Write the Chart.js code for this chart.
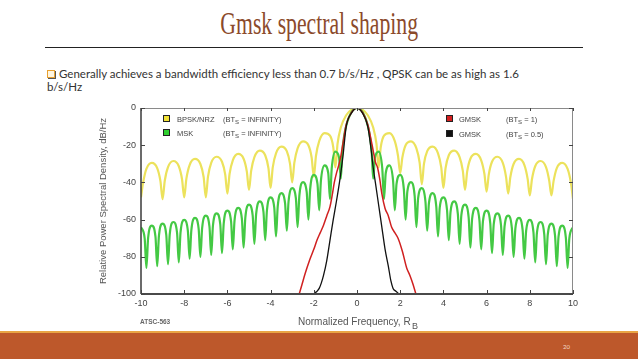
<!DOCTYPE html>
<html lang="en">
<head>
<meta charset="UTF-8">
<title>Gmsk spectral shaping</title>
<script src="https://cdn.jsdelivr.net/npm/chart.js"></script>
<style>
  html, body { margin: 0; padding: 0; }
  body { width: 638px; height: 359px; position: relative; overflow: hidden; background: #fff; font-family: Lato, "Liberation Sans", sans-serif; }
  #title { position: absolute; left: 0; top: 8px; width: 638px; text-align: center; font-family: "Liberation Serif", serif; font-size: 31px; line-height: 31px; color: #8b4a2b; }
  #title span { display: inline-block; transform: scaleX(0.7); }
  #rule { position: absolute; left: 45px; top: 47px; width: 538px; height: 1px; background: #222; }
  #bullet { position: absolute; left: 47px; top: 67px; width: 570px; font-size: 11.5px; line-height: 13px; color: #333; }
  .box { display: inline-block; width: 6px; height: 6px; border: 1.5px solid #e8a030; box-shadow: 1px 1px 0 #555; margin-right: 4px; background: #fff6e0; }
  #footLine { position: absolute; left: 0; top: 331px; width: 638px; height: 2px; background: #e9a545; }
  #footer { position: absolute; left: 0; top: 333px; width: 638px; height: 26px; background: #bd582b; }
  #page { position: absolute; left: 563px; top: 343px; font-size: 6px; color: #f3d8c8; }
  #wrap { position: absolute; left: 0; top: 0; width: 638px; height: 359px; }
</style>
</head>
<body>
  <div id="title"><span>Gmsk spectral shaping</span></div>
  <div id="rule"></div>
  <div id="bullet"><span class="box"></span>Generally achieves a bandwidth efficiency less than 0.7 b/s/Hz , QPSK can be as high as 1.6<br>b/s/Hz</div>
  <div id="footLine"></div>
  <div id="footer"></div>
  <div id="page">20</div>
  <div id="wrap"><canvas id="psdChart" width="638" height="359"></canvas></div>
<script>
// BPSK/NRZ (yellow)
const bpskFreq = [
  -10, -9.9, -9.75, -9.5, -9.25, -9.1,
  -9, -8.9, -8.75, -8.5, -8.25, -8.1,
  -8, -7.9, -7.75, -7.5, -7.25, -7.1,
  -7, -6.9, -6.75, -6.5, -6.25, -6.1,
  -6, -5.9, -5.75, -5.5, -5.25, -5.1,
  -5, -4.9, -4.75, -4.5, -4.25, -4.1,
  -4, -3.9, -3.75, -3.5, -3.25, -3.1,
  -3, -2.9, -2.75, -2.5, -2.25, -2.1,
  -2, -1.9, -1.75, -1.5, -1.25, -1.1,
  -1, -0.9, -0.75, -0.5, -0.25, 0, 0.25, 0.5, 0.75, 0.9,
  1, 1.1, 1.25, 1.5, 1.75, 1.9,
  2, 2.1, 2.25, 2.5, 2.75, 2.9,
  3, 3.1, 3.25, 3.5, 3.75, 3.9,
  4, 4.1, 4.25, 4.5, 4.75, 4.9,
  5, 5.1, 5.25, 5.5, 5.75, 5.9,
  6, 6.1, 6.25, 6.5, 6.75, 6.9,
  7, 7.1, 7.25, 7.5, 7.75, 7.9,
  8, 8.1, 8.25, 8.5, 8.75, 8.9,
  9, 9.1, 9.25, 9.5, 9.75, 9.9,
  10
];
const bpskDb = [
  -48, -40.0, -32.7, -29.5, -32.3, -39.3,
  -49, -39.1, -31.8, -28.5, -31.3, -38.3,
  -48, -38.1, -30.7, -27.4, -30.1, -37.1,
  -48, -37.0, -29.5, -26.2, -28.9, -35.8,
  -46, -35.5, -28.1, -24.7, -27.3, -34.2,
  -44, -33.8, -26.4, -22.9, -25.4, -32.3,
  -43, -31.9, -24.4, -20.8, -23.2, -30.0,
  -40, -29.4, -21.7, -17.9, -20.0, -26.6,
  -37, -25.8, -17.8, -13.5, -14.9, -21.0,
  -32, -19.2, -10.5, -3.9, -0.9, 0, -0.9, -3.9, -10.5, -19.2,
  -32, -21.0, -14.9, -13.5, -17.8, -25.8,
  -35, -26.6, -20.0, -17.9, -21.7, -29.4,
  -41, -30.0, -23.2, -20.8, -24.4, -31.9,
  -43, -32.3, -25.4, -22.9, -26.4, -33.8,
  -44, -34.2, -27.3, -24.7, -28.1, -35.5,
  -45, -35.8, -28.9, -26.2, -29.5, -37.0,
  -46, -37.1, -30.1, -27.4, -30.7, -38.1,
  -47, -38.3, -31.3, -28.5, -31.8, -39.1,
  -47, -39.3, -32.3, -29.5, -32.7, -40.0,
  -49
];

// MSK (green)
const mskFreq = [
  -10, -9.83, -9.75, -9.67,  -9.5, -9.33, -9.25, -9.17,
  -9, -8.83, -8.75, -8.67,   -8.5, -8.33, -8.25, -8.17,
  -8, -7.83, -7.75, -7.67,   -7.5, -7.33, -7.25, -7.17,
  -7, -6.83, -6.75, -6.67,   -6.5, -6.33, -6.25, -6.17,
  -6, -5.83, -5.75, -5.67,   -5.5, -5.33, -5.25, -5.17,
  -5, -4.83, -4.75, -4.67,   -4.5, -4.33, -4.25, -4.17,
  -4, -3.83, -3.75, -3.67,   -3.5, -3.33, -3.25, -3.17,
  -3, -2.83, -2.75, -2.67,   -2.5, -2.33, -2.25, -2.17,
  -2, -1.83, -1.75, -1.67,   -1.5, -1.33, -1.25, -1.17,
  -1, -0.83, -0.75,
  -0.68, -0.6, -0.5, -0.25, 0, 0.25, 0.5, 0.6, 0.68,
  0.75, 0.83, 1,
  1.17, 1.25, 1.33, 1.5,   1.67, 1.75, 1.83, 2,
  2.17, 2.25, 2.33, 2.5,   2.67, 2.75, 2.83, 3,
  3.17, 3.25, 3.33, 3.5,   3.67, 3.75, 3.83, 4,
  4.17, 4.25, 4.33, 4.5,   4.67, 4.75, 4.83, 5,
  5.17, 5.25, 5.33, 5.5,   5.67, 5.75, 5.83, 6,
  6.17, 6.25, 6.33, 6.5,   6.67, 6.75, 6.83, 7,
  7.17, 7.25, 7.33, 7.5,   7.67, 7.75, 7.83, 8,
  8.17, 8.25, 8.33, 8.5,   8.67, 8.75, 8.83, 9,
  9.17, 9.25, 9.33, 9.5,   9.67, 9.75, 9.83, 10
];
const mskDb = [
  -64.1, -70.1, -86, -69.8,  -63.2, -69.2, -85, -68.8,
  -62.2, -68.2, -84, -67.9,  -61.3, -67.2, -83, -66.9,
  -60.2, -66.1, -81, -65.8,  -59.1, -65.0, -80, -64.6,
  -57.9, -63.8, -79, -63.3,  -56.6, -62.5, -78, -62.0,
  -55.2, -61.0, -76, -60.5,  -53.7, -59.5, -75, -58.9,
  -52.0, -57.7, -73, -57.1,  -50.2, -55.8, -71, -55.1,
  -48.1, -53.6, -69, -52.9,  -45.8, -51.2, -66, -50.4,
  -43.1, -48.4, -64, -47.3,  -39.9, -45.0, -60, -43.7,
  -36.0, -40.8, -55, -39.1,  -30.9, -35.1, -49, -32.5,
  -23.5, -26.6, -38,
  -23.5, -15.4, -9.5, -2.1, 0, -2.1, -9.5, -15.4, -23.5,
  -38, -26.6, -23.5,
  -32.5, -49, -35.1, -30.9,  -39.1, -55, -40.8, -36.0,
  -43.7, -60, -45.0, -39.9,  -47.3, -64, -48.4, -43.1,
  -50.4, -66, -51.2, -45.8,  -52.9, -69, -53.6, -48.1,
  -55.1, -71, -55.8, -50.2,  -57.1, -73, -57.7, -52.0,
  -58.9, -75, -59.5, -53.7,  -60.5, -76, -61.0, -55.2,
  -62.0, -78, -62.5, -56.6,  -63.3, -79, -63.8, -57.9,
  -64.6, -80, -65.0, -59.1,  -65.8, -81, -66.1, -60.2,
  -66.9, -83, -67.2, -61.3,  -67.9, -84, -68.2, -62.2,
  -68.8, -85, -69.2, -63.2,  -69.8, -86, -70.1, -64.1
];

// GMSK, BTs = 1 (red)
const gmsk1Freq = [-2.7, -2.55, -2.4, -2.2, -2.0, -1.85, -1.7, -1.55, -1.4, -1.25,
  -1.15, -1.05, -0.95, -0.85, -0.75, -0.65, -0.5, -0.25, 0,
  0.25, 0.5, 0.65, 0.75, 0.85, 0.95, 1.05, 1.15, 1.3,
  1.45, 1.6, 1.75, 1.9, 2.1, 2.3, 2.45, 2.6, 2.75];
const gmsk1Db = [-101, -95, -89, -82, -76, -71, -67, -63, -58, -53,
  -47, -40, -35, -31, -26, -19, -9, -2.3, 0,
  -2.3, -9, -17, -23, -29, -32, -38, -46, -54,
  -58, -64, -67, -70, -77, -86, -90, -95, -101];

// GMSK, BTs = 0.5 (black)
const gmsk05Freq = [-2.05, -1.95, -1.85, -1.75, -1.65, -1.55, -1.4, -1.25, -1.1, -0.95,
  -0.8, -0.65, -0.5, -0.25, 0, 0.25, 0.5, 0.65, 0.75, 0.85,
  0.95, 1.05, 1.15, 1.3, 1.45, 1.57, 1.67, 1.8, 1.9, 2.0];
const gmsk05Db = [-101, -99.5, -98.5, -97, -94, -90, -82, -71, -60, -50,
  -39, -26, -10, -2.6, 0, -2.6, -10, -22, -32, -40,
  -48, -56, -64, -76, -85, -93, -97, -98.5, -99.5, -101];

const xTicks = [-10, -8, -6, -4, -2, 0, 2, 4, 6, 8, 10];
const yTicks = [0, -20, -40, -60, -80, -100];

const FONT = '"Liberation Sans", Arial, sans-serif';

function toPoints(fs, ds) {
  return fs.map((f, i) => ({ x: f, y: ds[i] }));
}

function drawKey(ctx, x, y, fill) {
  ctx.fillStyle = fill;
  ctx.fillRect(x, y, 7, 7);
  ctx.strokeStyle = '#222';
  ctx.lineWidth = 1;
  ctx.strokeRect(x + 0.5, y + 0.5, 6, 6);
}

// "(BTs = ...)" with subscript s
function drawBT(ctx, x, y, val) {
  ctx.fillStyle = '#444';
  ctx.font = '7.5px ' + FONT;
  ctx.fillText('(BT', x, y);
  let w = ctx.measureText('(BT').width;
  ctx.font = '6px ' + FONT;
  ctx.fillText('S', x + w, y + 2);
  w += ctx.measureText('S').width;
  ctx.font = '7.5px ' + FONT;
  ctx.fillText(' = ' + val + ')', x + w, y);
}

const framePlugin = {
  id: 'frame',
  afterDatasetsDraw(chart) {
    const { ctx, chartArea: a, scales: { x, y } } = chart;
    ctx.save();
    ctx.strokeStyle = '#8a8a8a';
    ctx.lineWidth = 1;
    ctx.beginPath();
    ctx.moveTo(a.left, a.top + 0.5);
    ctx.lineTo(a.right - 0.5, a.top + 0.5);
    ctx.lineTo(a.right - 0.5, a.bottom);
    ctx.stroke();
    ctx.strokeStyle = '#3a3a3a';
    ctx.lineWidth = 1.5;
    ctx.beginPath();
    ctx.moveTo(a.left, a.top);
    ctx.lineTo(a.left, a.bottom);
    ctx.stroke();
    ctx.strokeStyle = '#4a4a4a';
    ctx.lineWidth = 2;
    ctx.beginPath();
    ctx.moveTo(a.left, a.bottom);
    ctx.lineTo(a.right, a.bottom);
    ctx.stroke();
    // inward tick marks
    ctx.strokeStyle = '#444';
    ctx.lineWidth = 1;
    ctx.beginPath();
    x.ticks.forEach(t => {
      const px = Math.round(x.getPixelForValue(t.value)) + 0.5;
      ctx.moveTo(px, a.bottom); ctx.lineTo(px, a.bottom - 4);
      ctx.moveTo(px, a.top); ctx.lineTo(px, a.top + 3);
    });
    y.ticks.forEach(t => {
      const py = Math.round(y.getPixelForValue(t.value)) + 0.5;
      ctx.moveTo(a.left, py); ctx.lineTo(a.left + 4, py);
      ctx.moveTo(a.right, py); ctx.lineTo(a.right - 4, py);
    });
    ctx.stroke();
    ctx.restore();
  },
  afterDraw(chart) {
    const { ctx, chartArea: a } = chart;
    ctx.save();
    ctx.textBaseline = 'alphabetic';
    // legend, left block
    drawKey(ctx, 163, 115, '#f2e236');
    drawKey(ctx, 163, 129, '#2fd02f');
    ctx.fillStyle = '#444';
    ctx.font = '7.5px ' + FONT;
    ctx.fillText('BPSK/NRZ', 177, 122);
    ctx.fillText('MSK', 177, 136);
    drawBT(ctx, 223, 122, 'INFINITY');
    drawBT(ctx, 223, 136, 'INFINITY');
    // legend, right block
    drawKey(ctx, 446, 115, '#d42020');
    drawKey(ctx, 446, 130, '#111');
    ctx.fillStyle = '#444';
    ctx.font = '7.5px ' + FONT;
    ctx.fillText('GMSK', 459, 122);
    ctx.fillText('GMSK', 459, 137);
    drawBT(ctx, 506, 122, '1');
    drawBT(ctx, 506, 137, '0.5');
    // axis titles
    ctx.fillStyle = '#555';
    ctx.font = '9.5px ' + FONT;
    ctx.save();
    ctx.translate(103, (a.top + a.bottom) / 2);
    ctx.rotate(-Math.PI / 2);
    ctx.textAlign = 'center';
    ctx.textBaseline = 'middle';
    ctx.fillText('Relative Power Spectral Density, dB/Hz', 0, 0);
    ctx.restore();
    ctx.font = '10px ' + FONT;
    ctx.fillText('Normalized Frequency, R', 298, 325);
    ctx.font = '9px ' + FONT;
    ctx.fillText('B', 412, 329);
    ctx.font = 'bold 6.5px ' + FONT;
    ctx.fillStyle = '#666';
    ctx.fillText('ATSC-563', 140, 324);
    ctx.restore();
  }
};

new Chart(document.getElementById('psdChart'), {
  type: 'line',
  data: {
    datasets: [
      { label: 'BPSK/NRZ', data: toPoints(bpskFreq, bpskDb), borderColor: '#ece25c', borderWidth: 2.2, order: 4 },
      { label: 'MSK', data: toPoints(mskFreq, mskDb), borderColor: '#44c944', borderWidth: 2.2, order: 3 },
      { label: 'GMSK (BTs = 1)', data: toPoints(gmsk1Freq, gmsk1Db), borderColor: '#d02020', borderWidth: 1.5, order: 2 },
      { label: 'GMSK (BTs = 0.5)', data: toPoints(gmsk05Freq, gmsk05Db), borderColor: '#111', borderWidth: 1.3, order: 1 }
    ]
  },
  options: {
    responsive: false,
    animation: false,
    layout: { padding: { left: 96, right: 65, top: 108, bottom: 47 } },
    elements: {
      point: { radius: 0 },
      line: { cubicInterpolationMode: 'monotone', fill: false }
    },
    plugins: { legend: { display: false }, tooltip: { enabled: false } },
    scales: {
      x: {
        type: 'linear', min: -10, max: 10,
        grid: { display: false, drawTicks: false },
        border: { display: false },
        afterBuildTicks: s => { s.ticks = xTicks.map(v => ({ value: v })); },
        ticks: { color: '#444', font: { family: FONT, size: 9 }, padding: 4, maxRotation: 0 },
        afterFit: s => { s.height = 18; }
      },
      y: {
        type: 'linear', min: -100, max: 0,
        grid: { display: false, drawTicks: false },
        border: { display: false },
        afterBuildTicks: s => { s.ticks = yTicks.map(v => ({ value: v })); },
        ticks: { color: '#444', font: { family: FONT, size: 9 }, padding: 5 },
        afterFit: s => { s.width = 45; }
      }
    }
  },
  plugins: [framePlugin]
});
</script>
</body>
</html>
